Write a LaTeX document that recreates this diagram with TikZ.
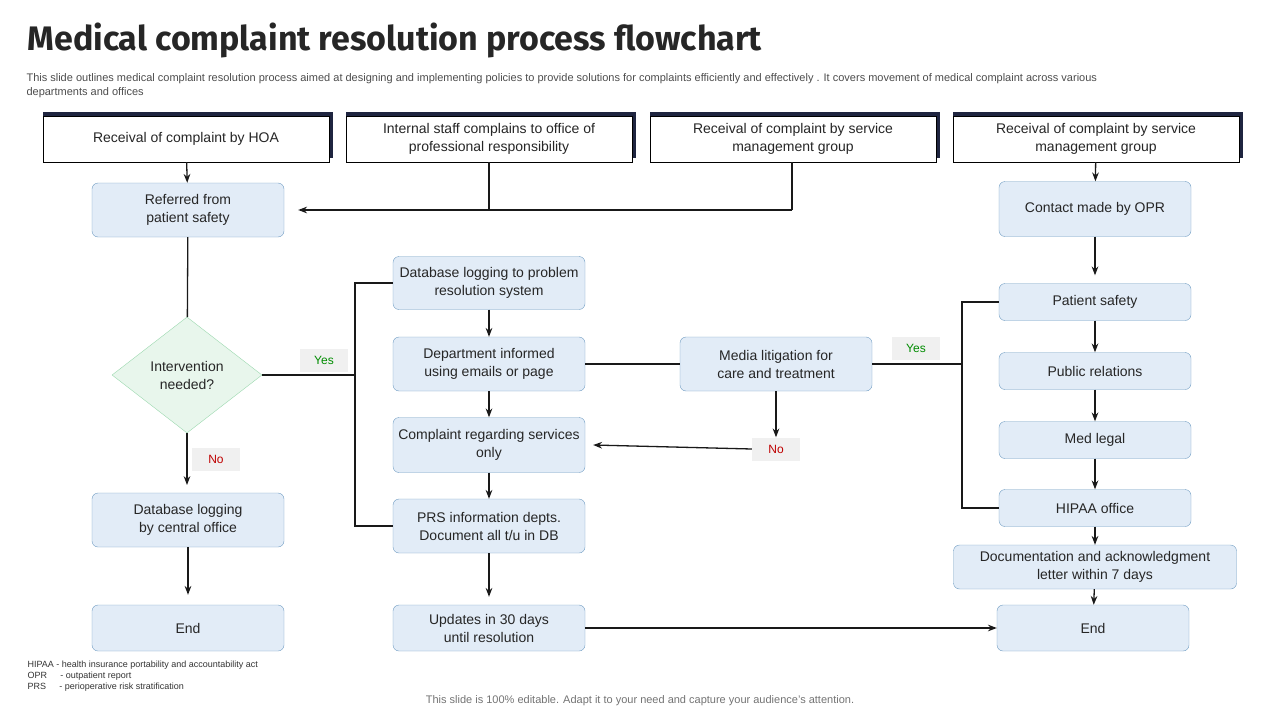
\documentclass[tikz,border=0pt]{standalone}
\usepackage{fontspec}
\setmainfont{Liberation Sans}
\newfontfamily\titlefont{Fira Sans}
\usetikzlibrary{calc, shapes.geometric, arrows.meta}
\tikzset{>=Stealth}
\definecolor{boxfill}{HTML}{E2ECF7}
\definecolor{boxline}{HTML}{6F9CC2}
\definecolor{navy}{HTML}{1F2540}
\definecolor{dfill}{HTML}{E8F6EC}
\definecolor{dline}{HTML}{9BD8AE}
\tikzset{
  flowbox/.style = {draw=boxline, fill=boxfill, rounded corners=6pt, minimum width=192pt, align=center, font=\fontsize{14}{18}\selectfont, text=black!85},
  head/.style = {draw=black, fill=white, minimum width=286pt, minimum height=46pt, align=center, font=\fontsize{14}{18}\selectfont, text=black!85},
  tag/.style = {fill=black!6, minimum width=48pt, minimum height=23pt, font=\fontsize{12}{14}\selectfont},
  line/.style = {draw=black!90, line width=1.3pt},
}
\begin{document}
\begin{tikzpicture}[x=1pt, y=-1pt]
		\useasboundingbox (0,0) rectangle (1280,720);
		
		% Title
		\node[anchor=west, font=\titlefont\bfseries\fontsize{34}{40}\selectfont, text=black!85] (title) at (24,40) {Medical complaint resolution process flowchart};
		\node[anchor=north west, align=left, font=\fontsize{11}{14}\selectfont, text=black!70] (sub) at (23,70) {This slide outlines medical complaint resolution process aimed at designing and implementing policies to provide solutions for complaints efficiently and effectively . It covers movement of medical complaint across various\\departments and offices};
		
		% Headers
		\foreach \x in {186,489,793,1096}
			\fill[navy] (\x-143,112) rectangle (\x+147,158);
		\node[head] (h1) at (186,139) {Receival of complaint by HOA};
		\node[head] (h2) at (489,139) {Internal staff complains to office of\\professional responsibility};
		\node[head] (h3) at (793,139) {Receival of complaint by service\\management group};
		\node[head] (h4) at (1096,139) {Receival of complaint by service\\management group};
		
		% Left column
		\node[flowbox, minimum height=54pt] (ref) at (188,210) {Referred from\\patient safety};
		\node[diamond, draw=dline, fill=dfill, minimum width=150pt, minimum height=116pt, inner sep=0pt, align=center, font=\fontsize{14}{18}\selectfont, text=black!85] (dec) at (187,375) {Intervention\\needed?};
		\node[flowbox, minimum height=54pt] (dbc) at (188,520) {Database logging\\by central office};
		\node[flowbox, minimum height=46pt] (end1) at (188,628) {End};
		
		% Middle column
		\node[flowbox, minimum height=53pt] (dbp) at (489,283) {Database logging to problem\\resolution system};
		\node[flowbox, minimum height=54pt] (dept) at (489,364) {Department informed\\using emails or page};
		\node[flowbox, minimum height=55pt] (comp) at (489,445) {Complaint regarding services\\only};
		\node[flowbox, minimum height=54pt] (prs) at (489,526) {PRS information depts.\\Document all t/u in DB};
		\node[flowbox, minimum height=46pt] (upd) at (489,628) {Updates in 30 days\\until resolution};
		\node[flowbox, minimum height=54pt] (media) at (776,364) {Media litigation for\\care and treatment};
		
		% Right column
		\node[flowbox, minimum height=55pt] (opr) at (1095,209) {Contact made by OPR};
		\node[flowbox, minimum height=37pt] (ps) at (1095,302) {Patient safety};
		\node[flowbox, minimum height=37pt] (pr) at (1095,371) {Public relations};
		\node[flowbox, minimum height=37pt] (ml) at (1095,440) {Med legal};
		\node[flowbox, minimum height=37pt] (hip) at (1095,508) {HIPAA office};
		\node[flowbox, minimum width=283pt, minimum height=44pt] (doc) at (1095,567) {Documentation and acknowledgment\\letter within 7 days};
		\node[flowbox, minimum height=46pt] (end2) at (1093,628) {End};
		
		% Tags
		\node[tag, text=green!55!black] (yes1) at (324,360) {Yes};
		\node[tag, text=red!75!black] (no1) at (216,459) {No};
		\node[tag, text=green!55!black] (yes2) at (916,348) {Yes};
		\node[tag, text=red!75!black] (no2) at (776,449) {No};
		
		% Connectors
		\coordinate (j1) at (489,210);
		\coordinate (j2) at (792,210);
		\coordinate (j3) at (187,485);
		\draw[line, ->] (h1) -- (ref);
		\draw[line] (h2.south) -- (j1);
		\draw[line] (h3.south -| j2) -- (j2);
		\draw[line, ->] (j2) -- ($(ref.east)+(14,0)$);
		\draw[line] (ref) -- (dec);
		\draw[line, ->] (dec) -- (j3);
		\draw[line, ->] (dbc) -- ($(end1.north)+(0,-10)$);
		
		\coordinate (b1) at (355,375);
		\draw[line] (dec.east) -- (b1);
		\draw[line] (dbp.west) -| (prs.west -| b1) -- (prs.west);
		\draw[line, ->] (dbp) -- (dept);
		\draw[line, ->] (dept) -- (comp);
		\draw[line, ->] (comp) -- (prs);
		\draw[line, ->] (prs) -- ($(upd.north)+(0,-8)$);
		\draw[line] (dept) -- (media);
		\draw[line, ->] (media) -- (no2.north);
		\draw[line, ->] (no2.west) -- ($(comp.east)+(8,0)$);
		
		\coordinate (b2) at (962,364);
		\draw[line] (media.east) -- (b2);
		\draw[line] (ps.west) -| (hip.west -| b2) -- (hip.west);
		\draw[line, ->] (h4) -- (opr);
		\draw[line, ->] (opr) -- ($(ps.north)+(0,-8)$);
		\draw[line, ->] (ps) -- (pr);
		\draw[line, ->] (pr) -- (ml);
		\draw[line, ->] (ml) -- (hip);
		\draw[line, ->] (hip) -- (doc);
		\draw[line, ->] (doc) -- (end2);
		\draw[line, ->] (upd) -- (end2);
		
		% Notes
		\node[anchor=north west, align=left, font=\fontsize{9}{11}\selectfont, text=black!80] (notes) at (24,657) {HIPAA - health insurance portability and accountability act\\OPR \hspace{1.2em}- outpatient report\\PRS \hspace{1.2em}- perioperative risk stratification};
		\node[font=\fontsize{11}{13}\selectfont, text=black!55] (foot) at (640,701) {This slide is 100\% editable. Adapt it to your need and capture your audience's attention.};
	\end{tikzpicture}
\end{document}
